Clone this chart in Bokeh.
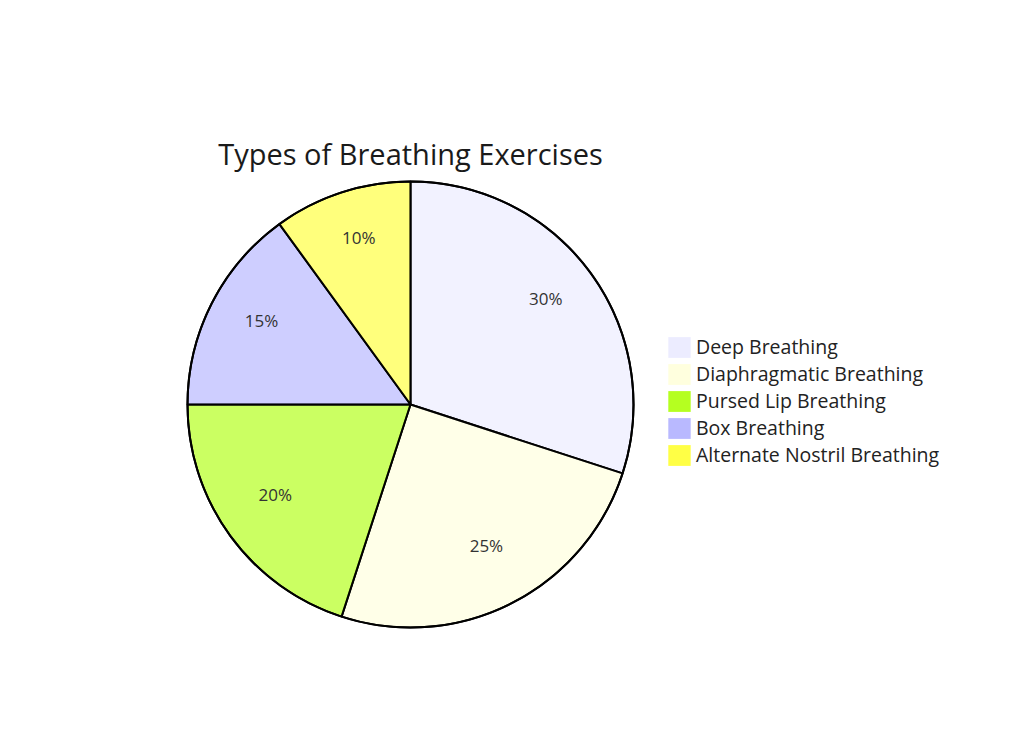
import math
from bokeh.plotting import figure
from bokeh.models import ColumnDataSource, Range1d, Legend, LegendItem
from bokeh.core.properties import value
from bokeh.embed import file_html
from bokeh.resources import INLINE

# ---- data ----
title_text = "Types of Breathing Exercises"
categories = ["Deep Breathing", "Diaphragmatic Breathing", "Pursed Lip Breathing",
              "Box Breathing", "Alternate Nostril Breathing"]
values = [30, 25, 20, 15, 10]
colors = ["#ECECFF", "#FFFFDE", "#B5FF20", "#B9B9FF", "#FFFF45"]

FONT = "Open Sans"
W, H = 1008, 715
cx, cy, R = 410, 311, 223

total = float(sum(values))
starts, ends, lx, ly, labels = [], [], [], [], []
acc = 0.0
for v in values:
    a0 = math.pi / 2 - 2 * math.pi * (acc + v) / total
    a1 = math.pi / 2 - 2 * math.pi * acc / total
    starts.append(a0)
    ends.append(a1)
    mid = (a0 + a1) / 2
    lx.append(cx + 0.75 * R * math.cos(mid))
    ly.append(cy + 0.75 * R * math.sin(mid))
    labels.append(f"{round(100 * v / total)}%")
    acc += v

src = ColumnDataSource(dict(cat=categories, val=values, color=colors,
                            start=starts, end=ends, lx=lx, ly=ly, label=labels,
                            x=[cx] * len(values), y=[cy] * len(values)))

p = figure(width=W, height=H, output_backend="svg", toolbar_location=None,
           x_range=Range1d(0, W), y_range=Range1d(0, H), min_border=0,
           background_fill_color="white", border_fill_color="white")
p.axis.visible = False
p.grid.visible = False
p.outline_line_color = None

p.wedge(x="x", y="y", radius=R, start_angle="start", end_angle="end",
        direction="anticlock", fill_color="color", fill_alpha=0.7,
        line_color="black", line_width=2, source=src)
p.circle(x=[cx], y=[cy], radius=R, fill_color=None, line_color="black", line_width=2)

p.text(x="lx", y="ly", text="label", source=src, text_align="center",
       text_baseline="alphabetic", y_offset=-8, text_font=value(FONT),
       text_font_size="17px", text_color="#333333")

p.text(x=[cx], y=[562], text=[title_text], text_align="center", text_baseline="middle",
       text_font=value(FONT), text_font_size="29px", text_color="#1a1a1a")

# legend swatches (zero-radius wedges: drawn only in the legend)
leg = p.wedge(x="x", y="y", radius=0, start_angle="start", end_angle="end",
              fill_color="color", line_color=None, source=src)
items = [LegendItem(label=c, renderers=[leg], index=i) for i, c in enumerate(categories)]
legend = Legend(items=items, location=(665, 247), orientation="vertical",
                glyph_width=28, glyph_height=26, spacing=0, padding=0, margin=0,
                label_standoff=3, label_text_font=FONT, label_text_font_size="19.5px",
                label_text_line_height=1.0,
                label_text_color="#222222", label_height=20,
                border_line_color=None, background_fill_alpha=0)
p.add_layout(legend, "center")

open("out.html", "w").write(file_html(p, INLINE))
